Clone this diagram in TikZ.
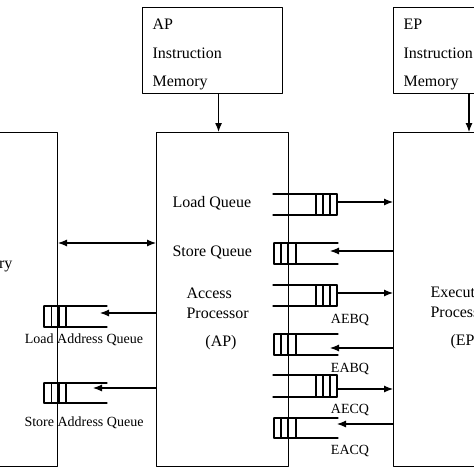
\documentclass[tikz,border=0pt]{standalone}
\usepackage{fontspec}
\setmainfont{Liberation Serif}
\usetikzlibrary{arrows.meta}
\begin{document}
\begin{tikzpicture}[x=1pt,y=-1pt,line width=1.1pt,line cap=round,line join=round,>={Latex[length=9pt,width=7pt]},
  box/.style={draw,inner sep=0pt},
  membox/.style={draw,anchor=north west,minimum width=140pt,minimum height=86pt,inner sep=0pt},
  memtext/.style={anchor=west,align=left,inner sep=0pt,font=\fontsize{16}{28.5}\selectfont},
  lbl/.style={font=\fontsize{16}{20}\selectfont,inner sep=0pt},
  sml/.style={font=\fontsize{14}{16}\selectfont,inner sep=0pt}]
  \useasboundingbox (0,0) rectangle (474,474);
  \clip (0,0) rectangle (474,474);
  % instruction memories
  \node[membox] (apim) at (142,7) {};
  \node[memtext] (apimtxt) at ([xshift=10pt,yshift=-4pt]apim.west) {AP\\Instruction\\Memory};
  \node[membox] (epim) at (393,7) {};
  \node[memtext] (epimtxt) at ([xshift=10pt,yshift=-4pt]epim.west) {EP\\Instruction\\Memory};
  % main blocks
  \node[box,anchor=north east,minimum width=200pt,minimum height=334pt] (mem) at (58,132) {};
  \node[box,anchor=north west,minimum width=132pt,minimum height=334pt] (ap) at (156,132) {};
  \node[box,anchor=north west,minimum width=132pt,minimum height=334pt] (ep) at (393,132) {};
  \draw[->] ([xshift=6pt]apim.south) -- ([xshift=6pt]apim.south |- ap.north);
  \draw[->] ([xshift=76pt]epim.south west) -- ([xshift=76pt]epim.south west |- ep.north);
  \draw[<->] (mem.east |- 0,243) -- (ap.west |- 0,243);
  % texts
  \node[lbl,anchor=east] (memtxt) at (13,265) {Memory};
  \node[lbl,anchor=west] (lqtxt) at (172,203) {Load Queue};
  \node[lbl,anchor=west] (sqtxt) at (172,252) {Store Queue};
  \node[lbl,anchor=west,align=left] (aptxt) at (186,303) {Access\\Processor};
  \node[lbl] (apname) at (221,343) {(AP)};
  \node[lbl,anchor=west,align=left] (eptxt) at (430,302) {Execute\\Processor};
  \node[lbl,anchor=west] (epname) at (450,342) {(EP)};
  % address queues (AP to memory)
  \foreach \n/\yt/\yb/\ay/\tip in {laq/306/327/313/100, saq/383/403/388/93} {
    \draw (44,\yt) -- (107,\yt) (44,\yb) -- (107,\yb);
    \foreach \cx in {44,51.5,59,66} \draw (\cx,\yt) -- (\cx,\yb);
    \coordinate (\n) at (\tip,\ay);
    \draw[->] (\n -| ap.west) -- (\n);
  }
  \node[sml] (laqtxt) at (84,340) {Load Address Queue};
  \node[sml] (saqtxt) at (84,423) {Store Address Queue};
  % queues AP to EP
  \foreach \n/\yt/\yb/\ay in {lq/194/215/202, aebq/285/306/293, aecq/375/397/389} {
    \draw (273,\yt) -- (337,\yt) (273,\yb) -- (337,\yb);
    \foreach \cx in {316,323,330,337} \draw (\cx,\yt) -- (\cx,\yb);
    \coordinate (\n) at (337,\ay);
    \draw[->] (\n) -- (\n -| ep.west);
  }
  % queues EP to AP
  \foreach \n/\yt/\yb/\ay/\tip in {sq/243/264/251/330, eabq/334/355/348/330, eacq/418/438/424/337} {
    \draw (274,\yt) -- (338,\yt) (274,\yb) -- (338,\yb);
    \foreach \cx in {274,281,288,296} \draw (\cx,\yt) -- (\cx,\yb);
    \coordinate (\n) at (\tip,\ay);
    \draw[->] (\n -| ep.west) -- (\n);
  }
  \node[sml] (aebqtxt) at (350,320) {AEBQ};
  \node[sml] (eabqtxt) at (350,369) {EABQ};
  \node[sml] (aecqtxt) at (350,410) {AECQ};
  \node[sml] (eacqtxt) at (350,451) {EACQ};
\end{tikzpicture}
\end{document}
